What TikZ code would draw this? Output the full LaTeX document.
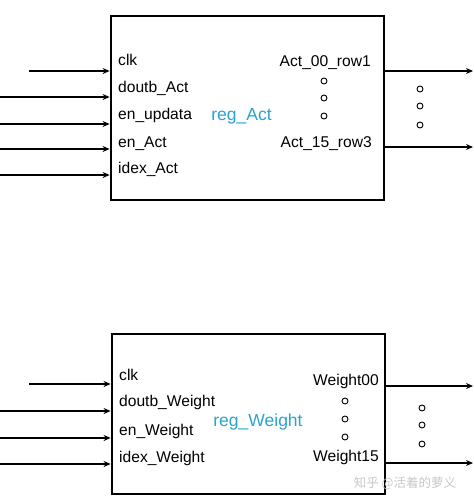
\documentclass[tikz,border=0pt]{standalone}
\usepackage{fontspec}
\setmainfont{Liberation Sans}
\newfontfamily\cjk{Noto Sans CJK SC}
\usetikzlibrary{arrows.meta}
\definecolor{regcyan}{HTML}{2BA3CF}
\begin{document}
\begin{tikzpicture}[x=1pt,y=-1pt,
  modbox/.style={draw,line width=2.8pt,rectangle,inner sep=0pt},
  lbl/.style={inner sep=0pt,anchor=base west,font=\fontsize{15.6}{17}\selectfont},
  rlbl/.style={inner sep=0pt,anchor=base east,font=\fontsize{15.6}{17}\selectfont},
  modname/.style={inner sep=0pt,anchor=base,text=regcyan,font=\fontsize{17.5}{20}\selectfont},
  sig/.style={line width=1.2pt,-{Stealth[length=7pt,width=6pt]}},
  dotc/.style={circle,draw,line width=0.9pt,inner sep=0pt,minimum size=6pt}]
\useasboundingbox (0,0) rectangle (474,504);
% top module
\node[modbox,minimum width=273pt,minimum height=184pt] (boxA) at (247.5,108) {};
\node[lbl] (a1) at (118,65) {clk};
\node[lbl] (a2) at (118,92) {doutb\_Act};
\node[lbl] (a3) at (118,119) {en\_updata};
\node[lbl] (a4) at (118,147) {en\_Act};
\node[lbl] (a5) at (118,173) {idex\_Act};
\node[modname] (nA) at (241.5,120) {reg\_Act};
\node[rlbl] (ao1) at (371,66) {Act\_00\_row1};
\node[rlbl] (ao2) at (372,147) {Act\_15\_row3};
\node[dotc] (ad1) at (324,81) {};
\node[dotc] (ad2) at (324,98) {};
\node[dotc] (ad3) at (324,116) {};
\node[dotc] (ae1) at (420,89) {};
\node[dotc] (ae2) at (420,106) {};
\node[dotc] (ae3) at (420,125) {};
\coordinate (ai1) at (29,71);
\coordinate (ai2) at (0,97);
\coordinate (ai3) at (0,124);
\coordinate (ai4) at (0,149);
\coordinate (ai5) at (0,175);
\foreach \i in {1,...,5} \draw[sig] (ai\i) -- (boxA.west |- ai\i);
\coordinate (aq1) at (473,71);
\coordinate (aq2) at (473,147);
\draw[sig] (boxA.east |- aq1) -- (aq1);
\draw[sig] (boxA.east |- aq2) -- (aq2);
% bottom module
\node[modbox,minimum width=273pt,minimum height=160pt] (boxB) at (248.5,414) {};
\node[lbl] (b1) at (119,380) {clk};
\node[lbl] (b2) at (119,406) {doutb\_Weight};
\node[lbl] (b3) at (119,435) {en\_Weight};
\node[lbl] (b4) at (119,462) {idex\_Weight};
\node[modname] (nB) at (258,426) {reg\_Weight};
\node[rlbl] (bo1) at (379,385) {Weight00};
\node[rlbl] (bo2) at (379,461) {Weight15};
\node[dotc] (bd1) at (345,401) {};
\node[dotc] (bd2) at (345,419) {};
\node[dotc] (bd3) at (345,437) {};
\node[dotc] (be1) at (422,408) {};
\node[dotc] (be2) at (422,425) {};
\node[dotc] (be3) at (422,444) {};
\coordinate (bi1) at (29,384);
\coordinate (bi2) at (0,411);
\coordinate (bi3) at (0,438);
\coordinate (bi4) at (0,464);
\foreach \i in {1,...,4} \draw[sig] (bi\i) -- (boxB.west |- bi\i);
\coordinate (bq1) at (473,386);
\coordinate (bq2) at (473,463);
\draw[sig] (boxB.east |- bq1) -- (bq1);
\draw[sig] (boxB.east |- bq2) -- (bq2);
% watermark
\node[inner sep=0pt,text=black!22,font=\cjk\fontsize{12.5}{14}\selectfont] (wm) at (405,483) {知乎 @活着的萝义};
\end{tikzpicture}
\end{document}
